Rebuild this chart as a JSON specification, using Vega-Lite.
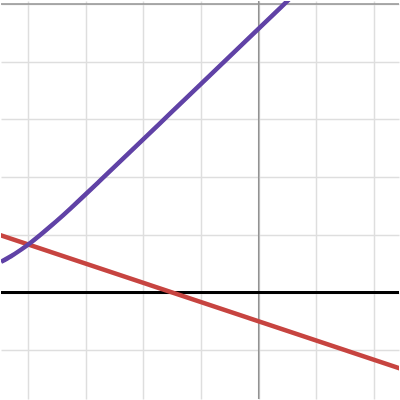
{
  "$schema": "https://vega.github.io/schema/vega-lite/v6.json",
  "width": 400,
  "height": 400,
  "autosize": {"type": "fit", "contains": "padding"},
  "padding": 0,
  "config": {
    "view": {"stroke": null},
    "axis": {
      "grid": true,
      "gridColor": "#dedede",
      "gridWidth": 1.5,
      "labels": false,
      "ticks": false,
      "domain": false,
      "title": null
    }
  },
  "datasets": {
    "purple": [
      {"x": -4.466, "y": -4.466},
      {"x": -4.293, "y": -4.371},
      {"x": -4.121, "y": -4.259},
      {"x": -3.948, "y": -4.133},
      {"x": -3.776, "y": -3.995},
      {"x": -3.603, "y": -3.848},
      {"x": -3.431, "y": -3.697},
      {"x": -3.259, "y": -3.54},
      {"x": -3.086, "y": -3.379},
      {"x": -2.741, "y": -3.053},
      {"x": -2.224, "y": -2.56},
      {"x": -1.707, "y": -2.064},
      {"x": -1.017, "y": -1.402},
      {"x": 0.017, "y": -0.409},
      {"x": 0.534, "y": 0.088}
    ],
    "red": [
      {"x": -4.5, "y": -4.0},
      {"x": 2.5, "y": -6.333}
    ],
    "black": [
      {"x": -4.5, "y": -5},
      {"x": 2.5, "y": -5}
    ]
  },
  "encoding": {
    "x": {
      "field": "x",
      "type": "quantitative",
      "scale": {"domain": [-4.466, 2.431], "nice": false, "zero": false},
      "axis": {"values": [-4, -3, -2, -1, 0, 1, 2]}
    },
    "y": {
      "field": "y",
      "type": "quantitative",
      "scale": {"domain": [-6.845, 0.052], "nice": false, "zero": false},
      "axis": {"values": [-6, -5, -4, -3, -2, -1, 0]}
    }
  },
  "layer": [
    {
      "data": {"values": [{"x": 0}]},
      "mark": {"type": "rule", "color": "#929292", "strokeWidth": 1.5},
      "encoding": {"y": null}
    },
    {
      "data": {"values": [{"y": 0}]},
      "mark": {"type": "rule", "color": "#929292", "strokeWidth": 1.5},
      "encoding": {"x": null}
    },
    {
      "data": {"name": "black"},
      "mark": {"type": "line", "color": "#000000", "strokeWidth": 3, "clip": true}
    },
    {
      "data": {"name": "red"},
      "mark": {"type": "line", "color": "#c74440", "strokeWidth": 4.5, "clip": true}
    },
    {
      "data": {"name": "purple"},
      "mark": {"type": "line", "color": "#6042a6", "strokeWidth": 4.5, "clip": true, "interpolate": "monotone"}
    }
  ]
}
